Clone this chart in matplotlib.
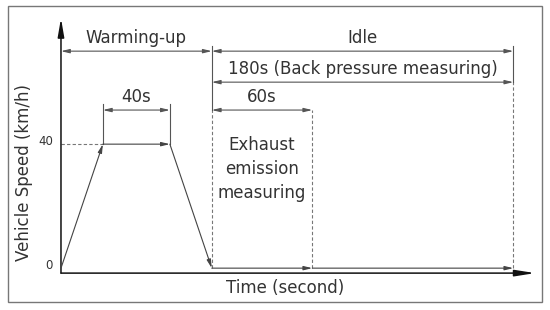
import matplotlib.pyplot as plt
from matplotlib.patches import Rectangle

# speed profile (time in s, speed in km/h)
profile_time = [0, 25, 65, 90, 150, 270]
profile_speed = [0, 40, 40, 0, 0, 0]

speed_ticks = [0, 40]

# dimension brackets
phase_labels = ["Warming-up", "Idle", "180s (Back pressure measuring)", "60s", "40s"]
phase_start = [0, 90, 90, 90, 25]
phase_end = [90, 270, 270, 150, 65]

emission_label = "Exhaust\nemission\nmeasuring"

line_col = "#555555"
text_col = "#333333"

fig = plt.figure(figsize=(5.5, 3.1), dpi=100)
ax = fig.add_axes([0, 0, 1, 1])
ax.set_xlim(-36.4, 291.9)
ax.set_ylim(-13.5, 86.5)
ax.axis("off")

fig.patches.append(Rectangle((8 / 550, 8 / 310), 534 / 550, 296 / 310, transform=fig.transFigure,
                             fill=False, edgecolor="#777777", lw=1.0))

small = "-|>,head_length=5,head_width=1.2"
both = "<|-|>,head_length=5,head_width=1.2"


def arrow(x0, y0, x1, y1, style, color=line_col, lw=0.8, ms=1):
    ax.annotate("", xy=(x1, y1), xytext=(x0, y0),
                arrowprops=dict(arrowstyle=style, color=color, lw=lw,
                                shrinkA=0, shrinkB=0, mutation_scale=ms))


# axes with arrow heads
axis_y = -1.6
arrow(0, axis_y, 0, 80.6, "-|>,head_length=11,head_width=1.9", color="#111111", lw=1.1)
arrow(0, axis_y, 283, axis_y, "-|>,head_length=12,head_width=1.9", color="#111111", lw=1.1)

# profile segments, each ending with an arrow head
for i in range(len(profile_time) - 1):
    arrow(profile_time[i], profile_speed[i], profile_time[i + 1], profile_speed[i + 1],
          small, color="#444444")

# dashed guides
dash = (0, (3, 2))
ax.plot([0, profile_time[1]], [40, 40], ls=dash, color="#777777", lw=0.8)
ax.plot([90, 90], [0, 51], ls=dash, color="#777777", lw=0.8)
ax.plot([150, 150], [0, 51], ls=dash, color="#777777", lw=0.8)
ax.plot([270, 270], [0, 60], ls=dash, color="#777777", lw=0.8)

# extension lines
ax.plot([90, 90], [51, 71.5], color=line_col, lw=0.8)
ax.plot([270, 270], [60, 71.5], color=line_col, lw=0.8)
ax.plot([25, 25], [40, 53], color=line_col, lw=0.8)
ax.plot([65, 65], [40, 53], color=line_col, lw=0.8)

levels = [70, 70, 60, 51, 51]
fs = 12
for lab, s, e, lv in zip(phase_labels, phase_start, phase_end, levels):
    arrow(s, lv, e, lv, both)
    ax.text((s + e) / 2, lv + 1.2, lab, ha="center", va="bottom", fontsize=fs, color=text_col)

ax.text(120, 32, emission_label, ha="center", va="center", fontsize=fs, color=text_col,
        linespacing=1.4)

for v in speed_ticks:
    ax.text(-4.8, v + 1, str(v), ha="right", va="center", fontsize=8.5, color=text_col)

ax.text(-22, 31, "Vehicle Speed (km/h)", rotation=90, ha="center", va="center",
        fontsize=fs, color=text_col)
ax.text(134, -6.5, "Time (second)", ha="center", va="center", fontsize=fs, color=text_col)

fig.savefig("out.png", dpi=100)
